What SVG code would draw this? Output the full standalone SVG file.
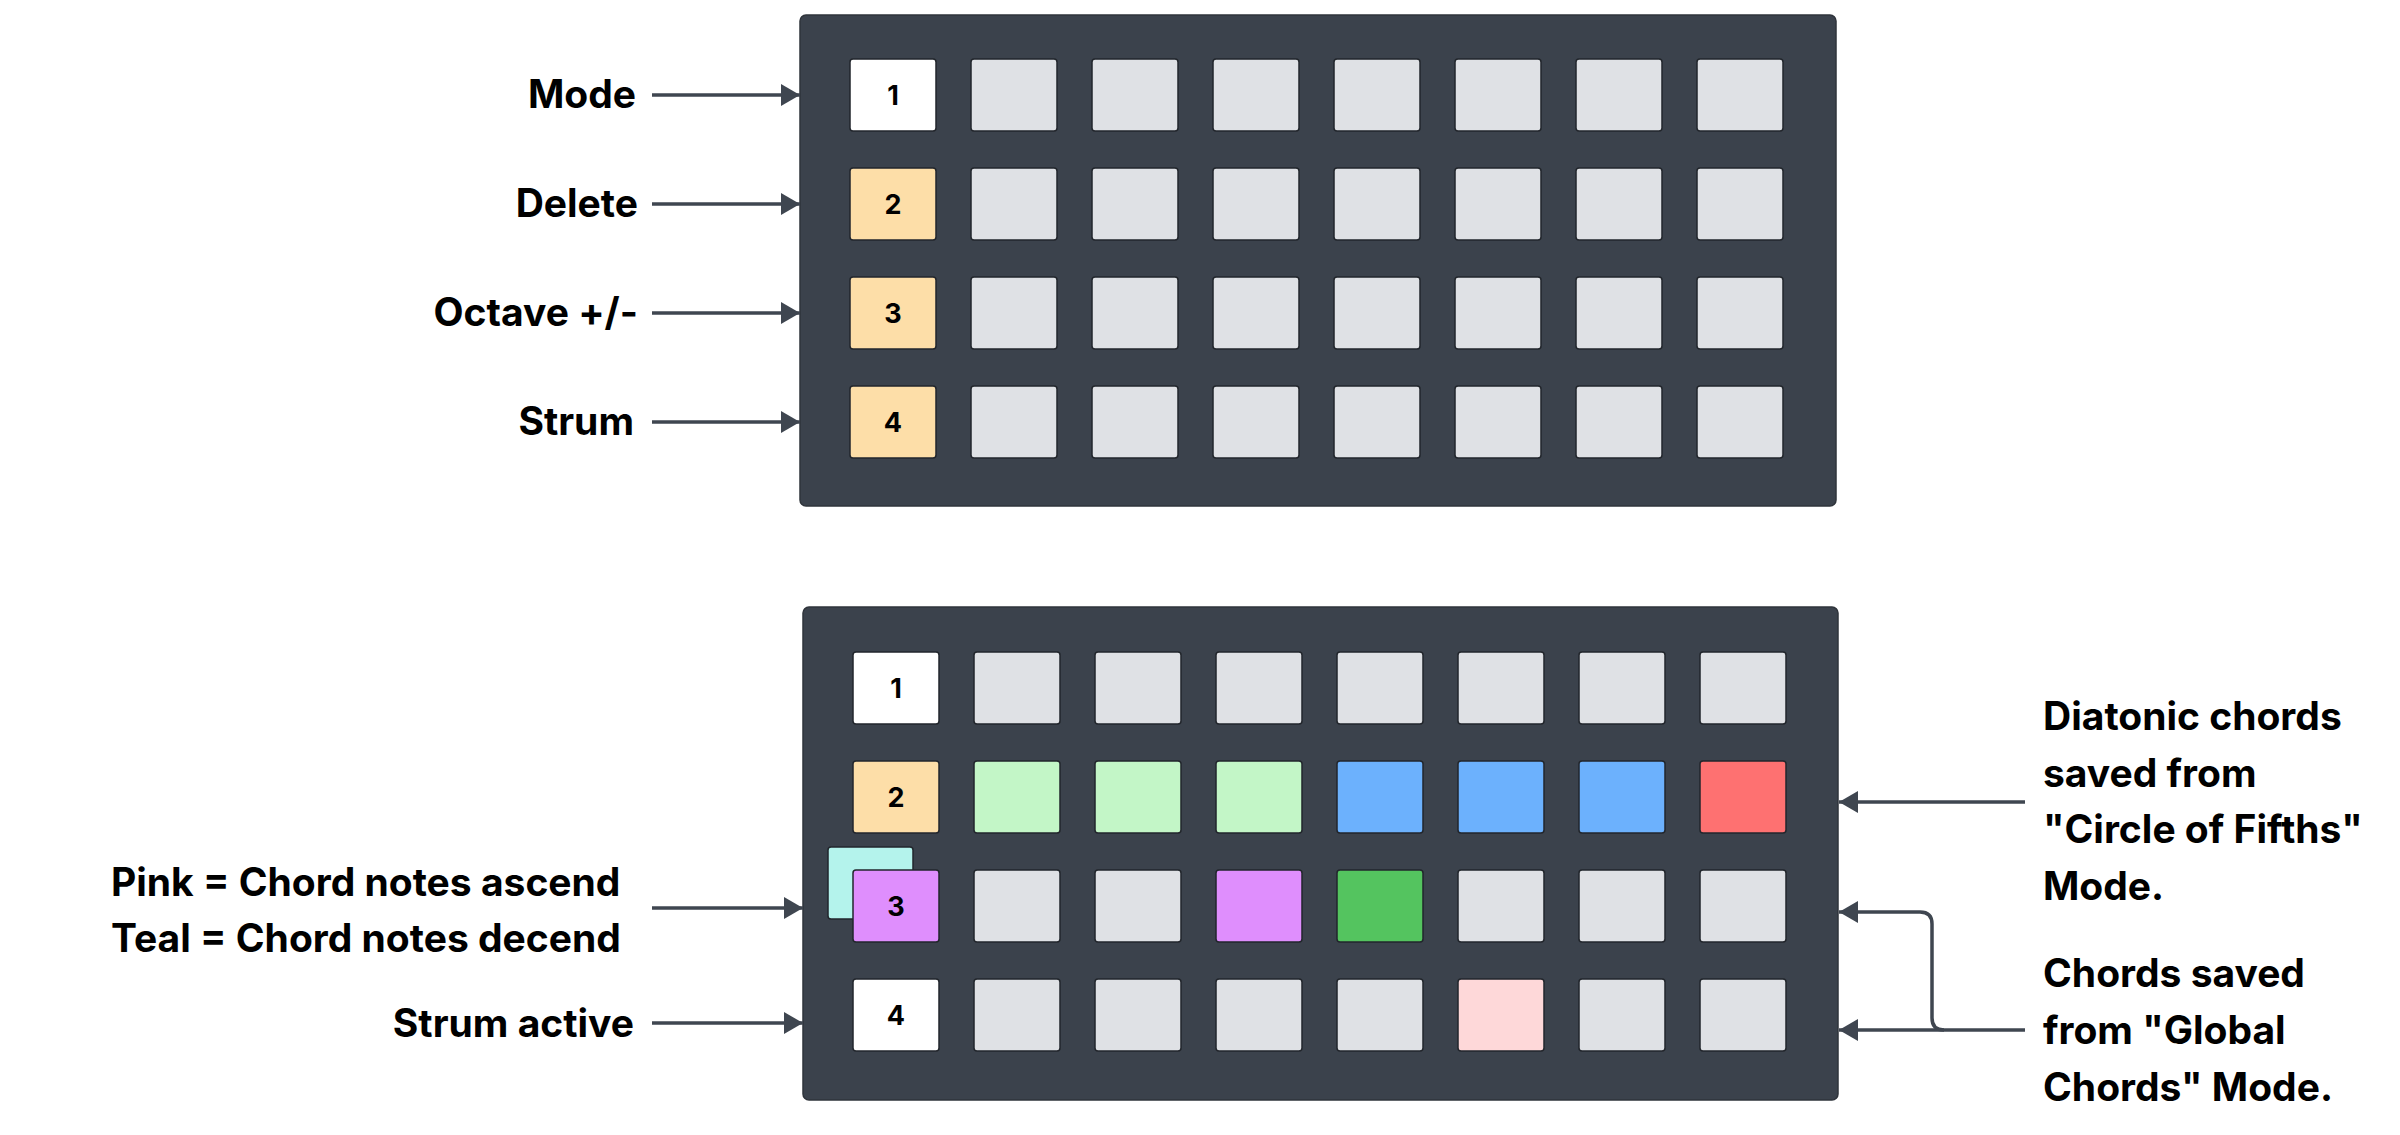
<svg xmlns="http://www.w3.org/2000/svg" width="2400" height="1135" viewBox="0 0 2400 1135">
<style>
.bg{fill:#ffffff}
.panel{fill:#3b424c;stroke:#2f343b;stroke-width:1.5}
.b{stroke:#22262c;stroke-width:1.5}
.g{fill:#dfe1e5}
.w{fill:#ffffff}
.o{fill:#fddea8}
.lg{fill:#c3f6c7}
.bl{fill:#6cb1fd}
.rd{fill:#fe7171}
.pu{fill:#df8efd}
.gr{fill:#54c45f}
.pk{fill:#fed8d9}
.tl{fill:#b4f3ec}
.num{font-family:Inter,"Liberation Sans",sans-serif;font-weight:700;font-size:27px;fill:#000;text-anchor:middle}
.lab{font-family:Inter,"Liberation Sans",sans-serif;font-weight:700;font-size:39px;fill:#000}
.end{text-anchor:end}
.con{stroke:#3f4650;stroke-width:3.5;fill:none}
</style>
<defs>
<marker id="ah" markerUnits="userSpaceOnUse" markerWidth="20" markerHeight="24" refX="19" refY="11" orient="auto">
<path d="M0,0 L19,11 L0,22 Z" fill="#3f4650"/>
</marker>
</defs>
<rect class="bg" x="0" y="0" width="2400" height="1135"/>

<g id="top-panel">
<rect class="panel" x="800" y="15" width="1036" height="491" rx="6"/>
</g>
<g id="top-r1">
<g id="t-1-1"><rect class="b w" x="850" y="59" width="86" height="72" rx="3"/><text class="num" x="893" y="105">1</text></g>
<rect id="t-1-2" class="b g" x="971" y="59" width="86" height="72" rx="3"/>
<rect id="t-1-3" class="b g" x="1092" y="59" width="86" height="72" rx="3"/>
<rect id="t-1-4" class="b g" x="1213" y="59" width="86" height="72" rx="3"/>
<rect id="t-1-5" class="b g" x="1334" y="59" width="86" height="72" rx="3"/>
<rect id="t-1-6" class="b g" x="1455" y="59" width="86" height="72" rx="3"/>
<rect id="t-1-7" class="b g" x="1576" y="59" width="86" height="72" rx="3"/>
<rect id="t-1-8" class="b g" x="1697" y="59" width="86" height="72" rx="3"/>
</g>
<g id="top-r2">
<g id="t-2-1"><rect class="b o" x="850" y="168" width="86" height="72" rx="3"/><text class="num" x="893" y="214">2</text></g>
<rect id="t-2-2" class="b g" x="971" y="168" width="86" height="72" rx="3"/>
<rect id="t-2-3" class="b g" x="1092" y="168" width="86" height="72" rx="3"/>
<rect id="t-2-4" class="b g" x="1213" y="168" width="86" height="72" rx="3"/>
<rect id="t-2-5" class="b g" x="1334" y="168" width="86" height="72" rx="3"/>
<rect id="t-2-6" class="b g" x="1455" y="168" width="86" height="72" rx="3"/>
<rect id="t-2-7" class="b g" x="1576" y="168" width="86" height="72" rx="3"/>
<rect id="t-2-8" class="b g" x="1697" y="168" width="86" height="72" rx="3"/>
</g>
<g id="top-r3">
<g id="t-3-1"><rect class="b o" x="850" y="277" width="86" height="72" rx="3"/><text class="num" x="893" y="323">3</text></g>
<rect id="t-3-2" class="b g" x="971" y="277" width="86" height="72" rx="3"/>
<rect id="t-3-3" class="b g" x="1092" y="277" width="86" height="72" rx="3"/>
<rect id="t-3-4" class="b g" x="1213" y="277" width="86" height="72" rx="3"/>
<rect id="t-3-5" class="b g" x="1334" y="277" width="86" height="72" rx="3"/>
<rect id="t-3-6" class="b g" x="1455" y="277" width="86" height="72" rx="3"/>
<rect id="t-3-7" class="b g" x="1576" y="277" width="86" height="72" rx="3"/>
<rect id="t-3-8" class="b g" x="1697" y="277" width="86" height="72" rx="3"/>
</g>
<g id="top-r4">
<g id="t-4-1"><rect class="b o" x="850" y="386" width="86" height="72" rx="3"/><text class="num" x="893" y="432">4</text></g>
<rect id="t-4-2" class="b g" x="971" y="386" width="86" height="72" rx="3"/>
<rect id="t-4-3" class="b g" x="1092" y="386" width="86" height="72" rx="3"/>
<rect id="t-4-4" class="b g" x="1213" y="386" width="86" height="72" rx="3"/>
<rect id="t-4-5" class="b g" x="1334" y="386" width="86" height="72" rx="3"/>
<rect id="t-4-6" class="b g" x="1455" y="386" width="86" height="72" rx="3"/>
<rect id="t-4-7" class="b g" x="1576" y="386" width="86" height="72" rx="3"/>
<rect id="t-4-8" class="b g" x="1697" y="386" width="86" height="72" rx="3"/>
</g>

<g id="bottom-panel">
<rect class="panel" x="803" y="607" width="1035" height="493" rx="6"/>
</g>
<g id="bot-r1">
<g id="b-1-1"><rect class="b w" x="853" y="652" width="86" height="72" rx="3"/><text class="num" x="896" y="698">1</text></g>
<rect id="b-1-2" class="b g" x="974" y="652" width="86" height="72" rx="3"/>
<rect id="b-1-3" class="b g" x="1095" y="652" width="86" height="72" rx="3"/>
<rect id="b-1-4" class="b g" x="1216" y="652" width="86" height="72" rx="3"/>
<rect id="b-1-5" class="b g" x="1337" y="652" width="86" height="72" rx="3"/>
<rect id="b-1-6" class="b g" x="1458" y="652" width="86" height="72" rx="3"/>
<rect id="b-1-7" class="b g" x="1579" y="652" width="86" height="72" rx="3"/>
<rect id="b-1-8" class="b g" x="1700" y="652" width="86" height="72" rx="3"/>
</g>
<g id="bot-r2">
<g id="b-2-1"><rect class="b o" x="853" y="761" width="86" height="72" rx="3"/><text class="num" x="896" y="807">2</text></g>
<rect id="b-2-2" class="b lg" x="974" y="761" width="86" height="72" rx="3"/>
<rect id="b-2-3" class="b lg" x="1095" y="761" width="86" height="72" rx="3"/>
<rect id="b-2-4" class="b lg" x="1216" y="761" width="86" height="72" rx="3"/>
<rect id="b-2-5" class="b bl" x="1337" y="761" width="86" height="72" rx="3"/>
<rect id="b-2-6" class="b bl" x="1458" y="761" width="86" height="72" rx="3"/>
<rect id="b-2-7" class="b bl" x="1579" y="761" width="86" height="72" rx="3"/>
<rect id="b-2-8" class="b rd" x="1700" y="761" width="86" height="72" rx="3"/>
</g>
<g id="bot-r3">
<rect id="b-3-teal" class="b tl" x="828" y="847" width="85" height="72" rx="3"/>
<g id="b-3-1"><rect class="b pu" x="853" y="870" width="86" height="72" rx="3"/><text class="num" x="896" y="916">3</text></g>
<rect id="b-3-2" class="b g" x="974" y="870" width="86" height="72" rx="3"/>
<rect id="b-3-3" class="b g" x="1095" y="870" width="86" height="72" rx="3"/>
<rect id="b-3-4" class="b pu" x="1216" y="870" width="86" height="72" rx="3"/>
<rect id="b-3-5" class="b gr" x="1337" y="870" width="86" height="72" rx="3"/>
<rect id="b-3-6" class="b g" x="1458" y="870" width="86" height="72" rx="3"/>
<rect id="b-3-7" class="b g" x="1579" y="870" width="86" height="72" rx="3"/>
<rect id="b-3-8" class="b g" x="1700" y="870" width="86" height="72" rx="3"/>
</g>
<g id="bot-r4">
<g id="b-4-1"><rect class="b w" x="853" y="979" width="86" height="72" rx="3"/><text class="num" x="896" y="1025">4</text></g>
<rect id="b-4-2" class="b g" x="974" y="979" width="86" height="72" rx="3"/>
<rect id="b-4-3" class="b g" x="1095" y="979" width="86" height="72" rx="3"/>
<rect id="b-4-4" class="b g" x="1216" y="979" width="86" height="72" rx="3"/>
<rect id="b-4-5" class="b g" x="1337" y="979" width="86" height="72" rx="3"/>
<rect id="b-4-6" class="b pk" x="1458" y="979" width="86" height="72" rx="3"/>
<rect id="b-4-7" class="b g" x="1579" y="979" width="86" height="72" rx="3"/>
<rect id="b-4-8" class="b g" x="1700" y="979" width="86" height="72" rx="3"/>
</g>

<g id="labels">
<text id="lbl-mode" class="lab end" x="636" y="108">Mode</text>
<text id="lbl-delete" class="lab end" x="638" y="217">Delete</text>
<text id="lbl-octave" class="lab end" x="638" y="326">Octave +/-</text>
<text id="lbl-strum" class="lab end" x="634" y="435">Strum</text>
<text id="lbl-pinkteal" class="lab"><tspan x="111" y="896">Pink = Chord notes ascend</tspan><tspan x="111" y="952">Teal = Chord notes decend</tspan></text>
<text id="lbl-strum-active" class="lab end" x="634" y="1037">Strum active</text>
<text id="lbl-diatonic" class="lab"><tspan x="2043" y="730">Diatonic chords</tspan><tspan x="2043" y="787">saved from</tspan><tspan x="2043" y="843">"Circle of Fifths"</tspan><tspan x="2043" y="900">Mode.</tspan></text>
<text id="lbl-global" class="lab"><tspan x="2043" y="987">Chords saved</tspan><tspan x="2043" y="1044">from "Global</tspan><tspan x="2043" y="1101">Chords" Mode.</tspan></text>
</g>

<g id="connectors">
<line class="con" x1="652" y1="95" x2="800" y2="95" marker-end="url(#ah)"/>
<line class="con" x1="652" y1="204" x2="800" y2="204" marker-end="url(#ah)"/>
<line class="con" x1="652" y1="313" x2="800" y2="313" marker-end="url(#ah)"/>
<line class="con" x1="652" y1="422" x2="800" y2="422" marker-end="url(#ah)"/>
<line class="con" x1="652" y1="908" x2="803" y2="908" marker-end="url(#ah)"/>
<line class="con" x1="652" y1="1023" x2="803" y2="1023" marker-end="url(#ah)"/>
<line class="con" x1="2025" y1="802" x2="1839" y2="802" marker-end="url(#ah)"/>
<line class="con" x1="2025" y1="1030" x2="1839" y2="1030" marker-end="url(#ah)"/>
<path class="con" d="M1944,1030 Q1932,1030 1932,1018 V924 Q1932,912 1920,912 H1839" marker-end="url(#ah)"/>
</g>
</svg>
